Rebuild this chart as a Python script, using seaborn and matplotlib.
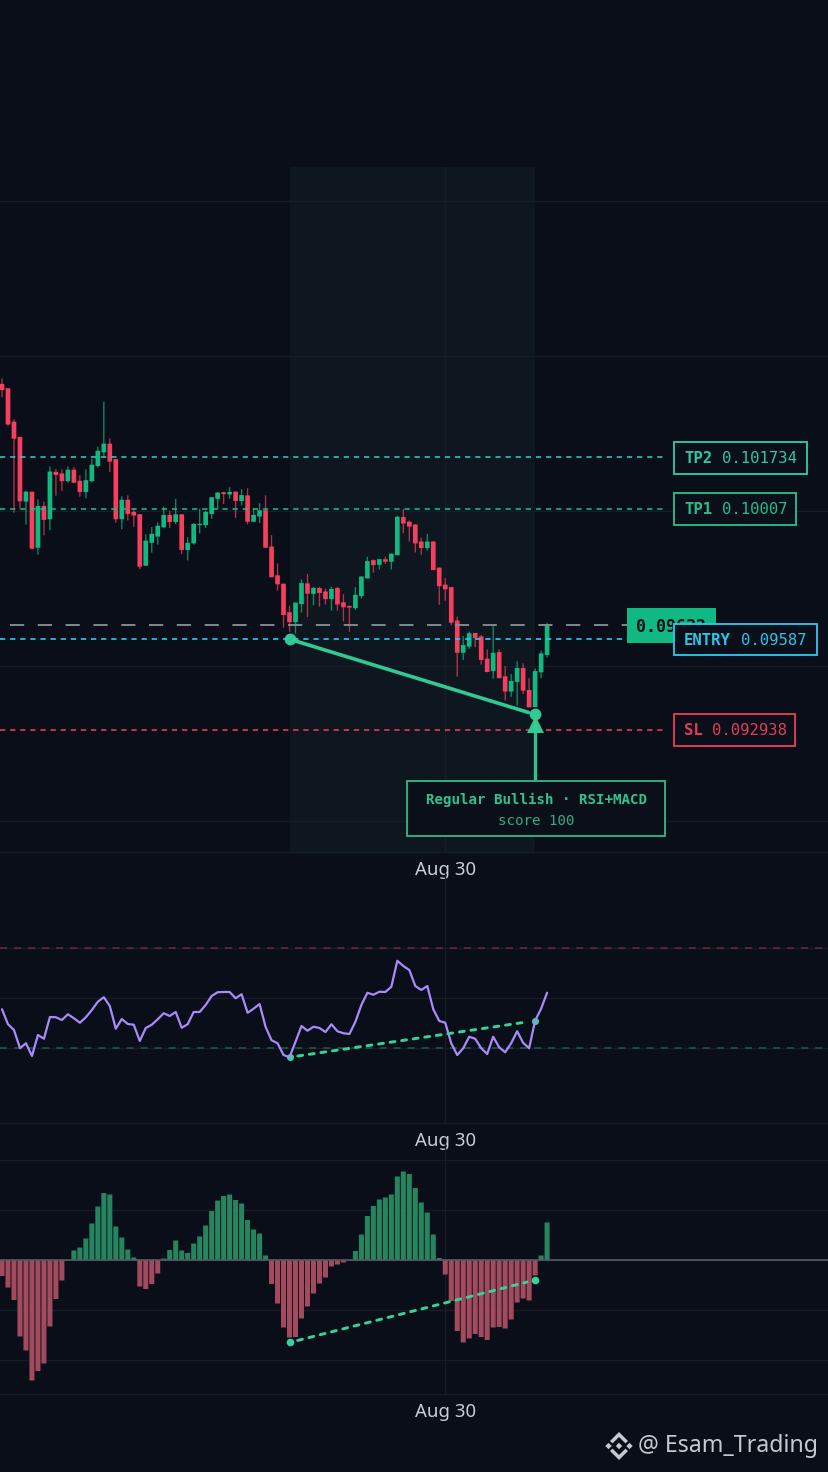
import numpy as np
import pandas as pd
import matplotlib
matplotlib.use("Agg")
import matplotlib.pyplot as plt
from matplotlib.patches import Rectangle, Polygon
import seaborn as sns

# ---------- data (prices in 1e-5 units) ----------
OPEN = [10411,10397,10289,10240,10031,10063,9882,10017,9974,10127,10122,10097,10134,10098,10062,10097,10146,10190,10218,10168,
        9974,10037,9998,9990,9824,9898,9918,9948,9988,9965,9990,9875,9896,9955,9955,9991,10040,10061,10054,10063,
        10033,10051,9966,9983,10003,9886,9793,9766,9674,9642,9700,9767,9733,9752,9741,9716,9752,9706,9694,9687,
        9726,9783,9842,9827,9845,9837,9858,9981,9966,9957,9902,9881,9902,9818,9763,9755,9647,9543,9563,9607,
        9596,9524,9484,9545,9467,9418,9449,9494,9423,9368,9480,9536]
HIGH = [10429,10397,10297,10240,10066,10063,10038,10031,10144,10136,10135,10144,10143,10116,10135,10169,10208,10353,10235,10168,
        10048,10051,10009,9990,9925,9949,9964,10015,10001,10040,9990,9916,9961,10008,10001,10045,10062,10063,10077,10063,
        10071,10074,10010,10026,10051,9923,9831,9766,9695,9705,9780,9798,9756,9756,9750,9756,9756,9732,9696,9755,
        9791,9853,9844,9846,9853,9863,9985,10007,9970,9958,9914,9927,9904,9818,9784,9755,9660,9597,9611,9607,
        9600,9554,9630,9554,9500,9475,9515,9509,9461,9493,9550,9640]
LOW = [10368,10276,9995,10009,9957,9877,9860,9922,9939,10050,10066,10092,10090,10047,10042,10093,10141,10174,10127,9963,
       9942,9970,9950,9813,9824,9866,9892,9945,9946,9958,9862,9841,9892,9928,9946,9976,10006,10023,10041,9978,
       10019,9957,9965,9962,9882,9787,9744,9624,9611,9605,9673,9658,9697,9692,9699,9679,9679,9644,9611,9681,
       9718,9783,9801,9812,9830,9812,9858,9929,9902,9867,9860,9873,9810,9698,9711,9632,9466,9520,9556,9561,
       9505,9480,9460,9461,9389,9401,9372,9410,9367,9368,9461,9528]
CLOSE = [10391,10280,10234,10032,10063,9879,10017,9972,10128,10117,10097,10134,10092,10062,10100,10150,10195,10218,10160,9974,
         10037,9991,9986,9821,9905,9927,9953,9988,9965,9990,9875,9898,9959,9959,9998,10045,10060,10055,10062,10033,
         10052,9966,9988,10003,9882,9787,9764,9665,9642,9705,9768,9734,9752,9736,9716,9749,9699,9690,9689,9730,
         9789,9839,9826,9845,9837,9863,9982,9960,9950,9896,9881,9902,9810,9758,9748,9640,9543,9568,9606,9590,
         9520,9481,9543,9461,9418,9452,9494,9421,9367,9484,9541,9633]
RSI = [45.5,39.5,37.2,29.9,31.9,26.8,35.2,33.7,42.4,42.3,41.2,43.5,41.9,40.1,42.3,45.2,48.5,50.3,46.8,37.7,
       41.6,39.6,39.3,32.8,38.0,39.3,41.5,43.9,42.8,44.4,38.1,39.5,44.4,44.4,47.2,50.8,52.3,52.4,52.4,49.9,
       51.5,44.1,45.7,47.6,38.5,33.1,31.9,27.2,26.3,32.5,38.8,36.9,38.5,38.0,36.4,39.5,36.7,35.9,35.6,40.5,
       47.2,52.1,51.3,52.5,52.4,54.5,64.9,62.8,61.2,54.8,53.2,54.8,45.5,40.8,40.1,31.9,27.2,29.9,34.5,33.7,
       29.9,27.6,34.5,30.3,28.3,31.9,36.7,32.1,29.9,40.9,45.7,52.1]
MACD_HIST = [-0.32,-0.55,-0.80,-1.53,-1.81,-2.41,-2.22,-2.07,-1.33,-0.78,-0.41,-0.01,0.19,0.25,0.43,0.73,1.07,1.34,1.31,0.67,
             0.45,0.21,0.05,-0.53,-0.58,-0.48,-0.27,0.03,0.20,0.39,0.19,0.14,0.33,0.47,0.69,0.98,1.19,1.28,1.31,1.20,
             1.13,0.80,0.61,0.53,0.09,-0.48,-0.87,-1.35,-1.55,-1.54,-1.17,-0.93,-0.67,-0.47,-0.35,-0.13,-0.09,-0.05,-0.01,0.18,
             0.51,0.88,1.08,1.21,1.25,1.31,1.67,1.77,1.72,1.44,1.15,0.95,0.51,0.04,-0.29,-0.82,-1.42,-1.65,-1.57,-1.48,
             -1.54,-1.60,-1.35,-1.34,-1.37,-1.19,-0.85,-0.77,-0.81,-0.31,0.09,0.75]

TP2, TP1, ENTRY, SL, LAST = 0.101734, 0.10007, 0.09587, 0.092938, 0.09632
DIV_IDX = [48, 89]
DIV_PRICE = [0.09587, 0.093438]
DIV_RSI = [26.3, 40.9]
DIV_MACD = [-1.65, -0.40]
DATE_IDX, DATE_LABEL = 74, "Aug 30"

# ---------- style ----------
BG = "#0a0e18"; GRID = "#171c27"; UP = "#10b981"; DOWN = "#f43f5e"; MINT = "#34d399"
TXT = "#c9ced6"; VIOLET = "#a78bfa"
sns.set_theme(style="dark", rc={"axes.facecolor": BG, "figure.facecolor": BG, "axes.edgecolor": GRID})
plt.rcParams["font.family"] = ["Noto Sans", "DejaVu Sans"]
MONO = "DejaVu Sans Mono"

W, H = 828, 1472
fig = plt.figure(figsize=((W + 0.01) / 100, (H + 0.01) / 100), dpi=100)
def mk(top, bot):
    a = fig.add_axes([0, 1 - bot / H, 1, (bot - top) / H])
    a.patch.set_alpha(0)
    return a
ax = mk(167, 852); ar = mk(873, 1123); am = mk(1144, 1394)
XLIM = (-0.334, 137.9)
for a in (ax, ar, am):
    a.set_xlim(*XLIM)
    for s in a.spines.values():
        s.set_visible(False)
    a.spines["bottom"].set_visible(True); a.spines["bottom"].set_color(GRID); a.spines["bottom"].set_linewidth(1)
    a.grid(True, axis="both", color=GRID, lw=1)
    a.set_axisbelow(True)

# ---------- candles ----------
df = pd.DataFrame({"o": OPEN, "h": HIGH, "l": LOW, "c": CLOSE}) / 1e5
df["i"] = np.arange(len(df))
df["col"] = np.where(df.c >= df.o, UP, DOWN)
ax.axvspan(DIV_IDX[0], DIV_IDX[1], color="#5fc8a4", alpha=0.05, lw=0, zorder=0.5)
wk = ax.vlines(df.i, df.l, df.h, colors=df.col, lw=0.95, alpha=0.72, zorder=2)
wk.set_snap(False)
bars = ax.bar(df.i, (df.c - df.o).abs(), bottom=df[["o", "c"]].min(axis=1), width=0.78, color=df.col, lw=0, zorder=3)
for b in bars:
    b.set_snap(False)
ax.set_ylim(0.089, 0.11111)
ax.set_yticks([0.09, 0.095, 0.10, 0.105, 0.11])

LEVEL_END = 111.0
def level(y, color, ls, x0=XLIM[0], x1=LEVEL_END, lw=1.3, alpha=0.95, z=4):
    sns.lineplot(x=[x0, x1], y=[y, y], color=color, lw=lw, ls=ls, alpha=alpha, ax=ax, zorder=z, legend=False, errorbar=None)
level(TP2, "#2dd4bf", (0, (2.9, 2.7)), alpha=0.85)
level(TP1, "#19c08a", (0, (2.9, 2.7)), alpha=0.85)
level(ENTRY, "#2cc4e8", (0, (2.9, 2.7)), alpha=0.95)
level(SL, DOWN, (0, (2.9, 2.7)), alpha=0.85)
level(LAST, "#8a8e96", (0, (7.3, 7.0)), x0=1.3, x1=105, lw=1.4, alpha=0.95)

# divergence on price
ax.annotate("", xy=(DIV_IDX[1], DIV_PRICE[1]), xytext=(DIV_IDX[0], DIV_PRICE[0]), zorder=6,
            arrowprops=dict(arrowstyle="-", color=MINT, lw=2.6, shrinkA=5, shrinkB=5, alpha=0.95))
ax.scatter(DIV_IDX, DIV_PRICE, s=72, color=MINT, lw=0, zorder=7, alpha=0.95)
ax.plot([DIV_IDX[1]] * 2, [0.091292, 0.09318], color="#30c08c", lw=2.4, zorder=6, solid_capstyle="butt")
ax.scatter([DIV_IDX[1]], [0.093116], marker="^", s=150, color=MINT, lw=0, zorder=7, alpha=0.95)

# ---------- RSI ----------
ar.set_ylim(0, 100)
ar.set_yticks([30, 50, 70])
ar.axhline(70, color="#7a2438", lw=1.1, ls=(0, (4.6, 4.6)), zorder=1)
ar.axhline(30, color="#1f5a4b", lw=1.1, ls=(0, (4.6, 4.6)), zorder=1)
ar.scatter(DIV_IDX, DIV_RSI, s=26, color=MINT, lw=0, zorder=2)
sns.lineplot(x=df.i, y=RSI, color=VIOLET, lw=1.6, ax=ar, zorder=3, errorbar=None, legend=False)
ar.annotate("", xy=(DIV_IDX[1], DIV_RSI[1]), xytext=(DIV_IDX[0], DIV_RSI[0]), zorder=4,
            arrowprops=dict(arrowstyle="-", color=MINT, lw=2.1, ls=(0, (1.7, 2.3)), shrinkA=6, shrinkB=6))

# ---------- MACD ----------
md = pd.DataFrame({"i": df.i, "v": MACD_HIST})
md["side"] = np.where(md.v >= 0, "up", "down")
sns.barplot(data=md, x="i", y="v", hue="side", palette={"up": "#25855f", "down": "#a34b5e"}, native_scale=True,
            dodge=False, width=0.84, legend=False, ax=am, zorder=2, lw=0, errorbar=None, saturation=1)
for p in am.patches:
    p.set_snap(False)
am.set_xlim(*XLIM)
am.set_ylim(-2.68, 2.32)
am.set_yticks([-2, -1, 0, 1, 2])
am.axhline(0, color="#565b64", lw=1.2, zorder=3)
am.annotate("", xy=(DIV_IDX[1], DIV_MACD[1]), xytext=(DIV_IDX[0], DIV_MACD[0]), zorder=4,
            arrowprops=dict(arrowstyle="-", color=MINT, lw=2.1, ls=(0, (1.7, 2.3)), shrinkA=6, shrinkB=6))
am.scatter(DIV_IDX, DIV_MACD, s=30, color=MINT, lw=0, zorder=5)

for a, pad in ((ax, 6.4), (ar, 6.4), (am, 6.4)):
    a.set_xticks([DATE_IDX]); a.set_xticklabels([DATE_LABEL])
    a.tick_params(axis="x", length=0, pad=pad, labelsize=13.4, labelcolor=TXT)
    a.tick_params(axis="y", length=0, labelleft=False)
    a.set_xlabel(""); a.set_ylabel("")

# ---------- overlay: tags, boxes, watermark ----------
ov = fig.add_axes([0, 0, 1, 1], zorder=10)
ov.set_xlim(0, W); ov.set_ylim(H, 0); ov.axis("off"); ov.patch.set_alpha(0)

ov.add_patch(Rectangle((627, 608), 89, 35, fc=UP, ec="none", zorder=1))
ov.text(635.5, 626.5, "0.09632", family=MONO, weight="bold", fontsize=12, color="#0b0f19", va="center", ha="left", zorder=2)

CH = 9.42
def tag(x0, x1, y0, y1, name, val, color):
    ov.add_patch(Rectangle((x0, y0), x1 - x0, y1 - y0, fc="#0b0f19", ec=color, lw=1.35, zorder=3))
    yc = (y0 + y1) / 2 + 0.5
    ov.text(684, yc, name, family=MONO, weight="bold", fontsize=11.25, color=color, va="center", ha="left", zorder=4)
    ov.text(684 + (len(name) + 1) * CH, yc, val, family=MONO, fontsize=11.25, color=color, va="center", ha="left", zorder=4)
tag(673.5, 807, 442, 474, "TP2", "0.101734", "#2fc9a0")
tag(673.5, 795.5, 493, 525, "TP1", "0.10007", "#24bd8a")
tag(673.5, 817, 624, 655.5, "ENTRY", "0.09587", "#2cc4e8")
tag(673.5, 795, 714, 746, "SL", "0.092938", "#e23d58")

ov.add_patch(Rectangle((407, 781), 257.5, 55, fc="#0b0f19", ec="#2fb486", lw=1.35, zorder=3))
ov.text(536, 800, "Regular Bullish · RSI+MACD", family=MONO, weight="bold", fontsize=10.2, color="#2fc48f", ha="center", va="center", zorder=4)
ov.text(536, 820.5, "score 100", family=MONO, fontsize=10.2, color="#2bb083", ha="center", va="center", zorder=4)

WM = "#c6cad0"
cx, cy = 619, 1446
def diamond(x, y, r):
    ov.add_patch(Polygon([(x - r, y), (x, y - r), (x + r, y), (x, y + r)], fc=WM, ec="none"))
for dx in (-10.5, 0, 10.5):
    diamond(cx + dx, cy, 3.2)
for sgn in (-1, 1):
    ov.add_patch(Polygon([(cx - 9, cy + sgn * 5), (cx, cy + sgn * 14), (cx + 9, cy + sgn * 5), (cx + 6.5, cy + sgn * 2.6),
                          (cx, cy + sgn * 9), (cx - 6.5, cy + sgn * 2.6)], fc=WM, ec="none"))
ov.text(638, 1446, "@ Esam_Trading", family="Noto Sans", fontsize=16.7, color=WM, ha="left", va="center")

fig.savefig("out.png", dpi=100, facecolor=BG)
